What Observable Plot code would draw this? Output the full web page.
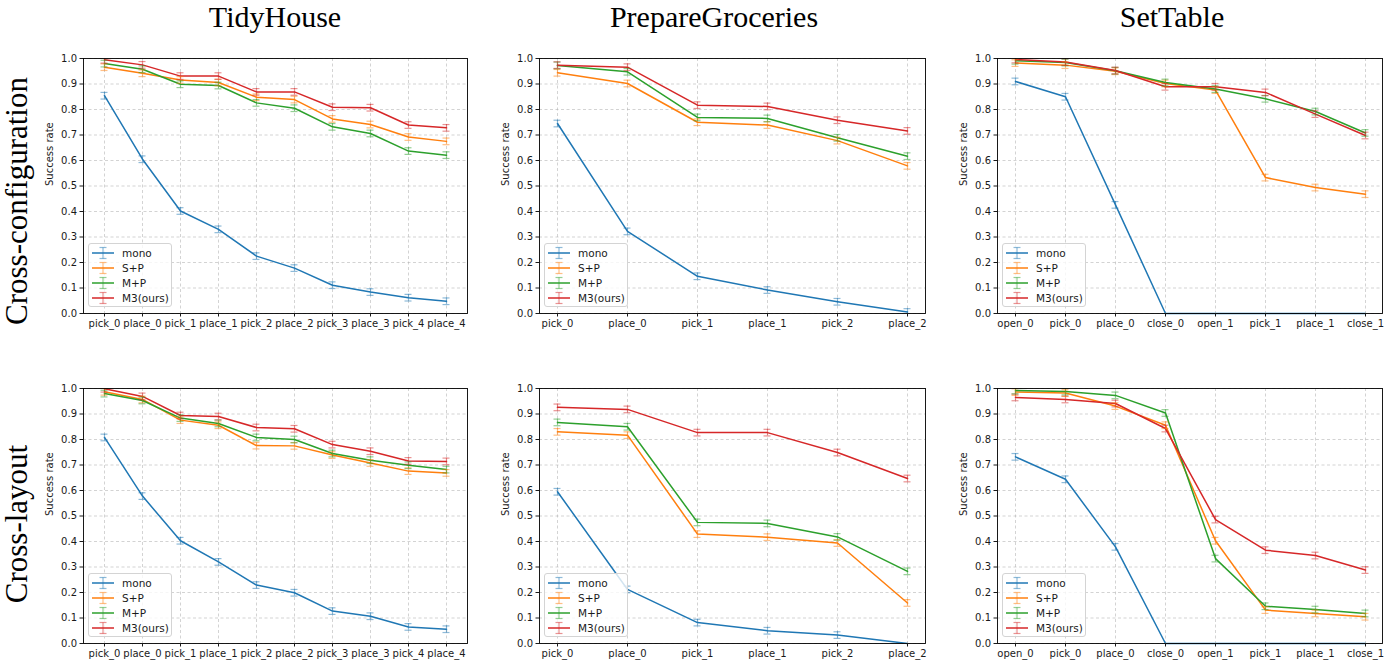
<!DOCTYPE html>
<html><head><meta charset="utf-8">
<script src="https://cdn.jsdelivr.net/npm/d3@7"></script>
<script src="https://cdn.jsdelivr.net/npm/@observablehq/plot@0.6"></script>
<style>
body{margin:0;background:#fff;width:1386px;height:662px;position:relative;overflow:hidden;font-family:"DejaVu Sans",sans-serif;}
.title{position:absolute;font-family:"Liberation Serif","Times New Roman",serif;font-size:30px;line-height:34px;color:#000;transform:translateX(-50%);white-space:nowrap;}
.rowlab{position:absolute;font-family:"Liberation Serif","Times New Roman",serif;font-size:31px;line-height:0.8;color:#000;white-space:nowrap;transform:translate(-50%,-50%) rotate(-90deg);}
.panel{position:absolute;}
.legend{position:absolute;box-sizing:border-box;border:1px solid #d4d4d4;border-radius:3px;background:rgba(255,255,255,0.8);font-family:"DejaVu Sans",sans-serif;font-size:10.5px;color:#1a1a1a;}
.legend .row{position:absolute;left:0;height:14px;display:flex;align-items:center;}
.legend svg{position:absolute;left:3px;}
.legend span{position:absolute;left:33px;white-space:nowrap;line-height:14px;}
</style></head>
<body>
<script>
// ---- data ----
const seriesNames = ["mono", "S+P", "M+P", "M3(ours)"];
const seriesColors = ["#1f77b4", "#ff7f0e", "#2ca02c", "#d62728"];
const taskTitles = ["TidyHouse", "PrepareGroceries", "SetTable"];
const rowTitles = ["Cross-configuration", "Cross-layout"];
const yTicks = [0, 0.1, 0.2, 0.3, 0.4, 0.5, 0.6, 0.7, 0.8, 0.9, 1.0];
const ERR = 0.013;

const catsTidy = ["pick_0","place_0","pick_1","place_1","pick_2","place_2","pick_3","place_3","pick_4","place_4"];
const catsGroceries = ["pick_0","place_0","pick_1","place_1","pick_2","place_2"];
const catsTable = ["open_0","pick_0","place_0","close_0","open_1","pick_1","place_1","close_1"];

// rows: mono, S+P, M+P, M3(ours)
const tidyConfig = [
  [0.854,0.605,0.402,0.330,0.225,0.178,0.111,0.084,0.062,0.048],
  [0.966,0.942,0.916,0.906,0.848,0.839,0.763,0.741,0.692,0.675],
  [0.980,0.958,0.899,0.894,0.826,0.805,0.732,0.706,0.637,0.621],
  [0.995,0.975,0.931,0.931,0.869,0.869,0.809,0.807,0.739,0.728]];
const groceriesConfig = [
  [0.745,0.322,0.146,0.092,0.046,0.006],
  [0.944,0.902,0.750,0.739,0.678,0.579],
  [0.973,0.948,0.769,0.765,0.689,0.617],
  [0.974,0.966,0.817,0.812,0.758,0.716]];
const tableConfig = [
  [0.910,0.850,0.426,0,0,0,0,0],
  [0.982,0.974,0.950,0.902,0.876,0.533,0.494,0.468],
  [0.991,0.984,0.952,0.906,0.880,0.842,0.792,0.708],
  [0.996,0.986,0.953,0.889,0.889,0.867,0.782,0.698]];
const tidyLayout = [
  [0.808,0.578,0.403,0.320,0.229,0.199,0.127,0.107,0.065,0.056],
  [0.987,0.957,0.876,0.856,0.776,0.775,0.739,0.708,0.676,0.669],
  [0.980,0.953,0.884,0.863,0.808,0.800,0.745,0.719,0.699,0.682],
  [0.999,0.969,0.894,0.890,0.847,0.842,0.780,0.754,0.716,0.714]];
const groceriesLayout = [
  [0.595,0.212,0.082,0.050,0.033,0.0],
  [0.830,0.817,0.429,0.417,0.394,0.159],
  [0.867,0.850,0.475,0.471,0.418,0.283],
  [0.926,0.918,0.827,0.827,0.749,0.647]];
const tableLayout = [
  [0.732,0.644,0.379,0,0,0,0,0],
  [0.986,0.982,0.931,0.856,0.403,0.131,0.118,0.105],
  [0.992,0.988,0.973,0.904,0.333,0.146,0.133,0.118],
  [0.965,0.957,0.941,0.843,0.486,0.366,0.345,0.288]];

// ---- layout ----
const ML = 50, MR = 5, MT = 5, MB = 25, FH = 255;
const frames = [ {left: 83, w: 384}, {left: 539, w: 386}, {left: 997, w: 385} ];
const rowTops = [58, 388];

function makePanel(cats, data, fx, fy) {
  const n = cats.length;
  const rows = [];
  data.forEach((vals, si) => vals.forEach((v, i) => rows.push({cat: cats[i], v, s: seriesNames[si]})));
  const err = rows.filter(d => d.v > 0);
  const cap = (sign) => Plot.ruleY(err, {x1: "cat", x2: "cat", y: d => d.v + sign * ERR, stroke: "s", strokeOpacity: 0.5, strokeWidth: 1.2, insetLeft: -3.5, insetRight: -3.5, clip: true});
  const chart = Plot.plot({
    width: fx.w + ML + MR, height: FH + MT + MB,
    marginLeft: ML, marginRight: MR, marginTop: MT, marginBottom: MB,
    style: {background: "transparent", overflow: "visible", maxWidth: "none", fontFamily: "DejaVu Sans, sans-serif", fontSize: "10px", color: "#1a1a1a"},
    x: {type: "point", domain: cats, padding: 0.05 * (n - 1), label: null},
    y: {domain: [0, 1], label: null},
    color: {domain: seriesNames, range: seriesColors},
    marks: [
      Plot.gridX({stroke: "#b0b0b0", strokeOpacity: 0.7, strokeDasharray: "3,2.5", strokeWidth: 0.8}),
      Plot.gridY({ticks: yTicks, stroke: "#b0b0b0", strokeOpacity: 0.7, strokeDasharray: "3,2.5", strokeWidth: 0.8}),
      Plot.line(rows, {x: "cat", y: "v", z: "s", stroke: "s", strokeWidth: 1.5}),
      Plot.ruleX(err, {x: "cat", y1: d => d.v - ERR, y2: d => d.v + ERR, stroke: "s", strokeOpacity: 0.5, strokeWidth: 1.2, clip: true}),
      cap(1),
      cap(-1),
      Plot.frame({stroke: "#000", strokeWidth: 0.9}),
      Plot.axisY({ticks: yTicks, tickFormat: d3.format(".1f"), tickSize: 3.5, tickPadding: 3, label: null, fontSize: 10}),
      Plot.axisX({tickSize: 3.5, tickPadding: 2.5, label: null, fontSize: 10}),
      Plot.text(["Success rate"], {frameAnchor: "left", dx: -34, rotate: -90, fontSize: 10})
    ]
  });
  const wrap = document.createElement("div");
  wrap.className = "panel";
  wrap.style.left = (fx.left - ML) + "px";
  wrap.style.top = (fy - MT) + "px";
  wrap.appendChild(chart);
  document.body.appendChild(wrap);

  // legend (lower left)
  const lg = document.createElement("div");
  lg.className = "legend";
  lg.style.left = (fx.left + 5) + "px";
  lg.style.top = (fy + 185) + "px";
  lg.style.width = "84px";
  lg.style.height = "64px";
  seriesNames.forEach((name, i) => {
    const r = document.createElement("div");
    r.className = "row";
    r.style.top = (2 + i * 15) + "px";
    r.innerHTML = `<svg width="24" height="14" viewBox="0 0 24 14">
      <line x1="0" x2="22" y1="7" y2="7" stroke="${seriesColors[i]}" stroke-width="1.5"/>
      <g stroke="${seriesColors[i]}" stroke-opacity="0.5" stroke-width="1.2">
        <line x1="11" x2="11" y1="1.5" y2="12.5"/>
        <line x1="7.5" x2="14.5" y1="1.5" y2="1.5"/>
        <line x1="7.5" x2="14.5" y1="12.5" y2="12.5"/>
      </g></svg><span>${name}</span>`;
    lg.appendChild(r);
  });
  document.body.appendChild(lg);
}

makePanel(catsTidy, tidyConfig, frames[0], rowTops[0]);
makePanel(catsGroceries, groceriesConfig, frames[1], rowTops[0]);
makePanel(catsTable, tableConfig, frames[2], rowTops[0]);
makePanel(catsTidy, tidyLayout, frames[0], rowTops[1]);
makePanel(catsGroceries, groceriesLayout, frames[1], rowTops[1]);
makePanel(catsTable, tableLayout, frames[2], rowTops[1]);

// titles
const titleX = [275, 714, 1172];
taskTitles.forEach((t, i) => {
  const d = document.createElement("div");
  d.className = "title";
  d.textContent = t;
  d.style.left = titleX[i] + "px";
  d.style.top = "0px";
  document.body.appendChild(d);
});
const rowY = [201, 524];
rowTitles.forEach((t, i) => {
  const d = document.createElement("div");
  d.className = "rowlab";
  d.textContent = t;
  d.style.left = "17px";
  d.style.top = rowY[i] + "px";
  document.body.appendChild(d);
});
</script>
</body></html>
